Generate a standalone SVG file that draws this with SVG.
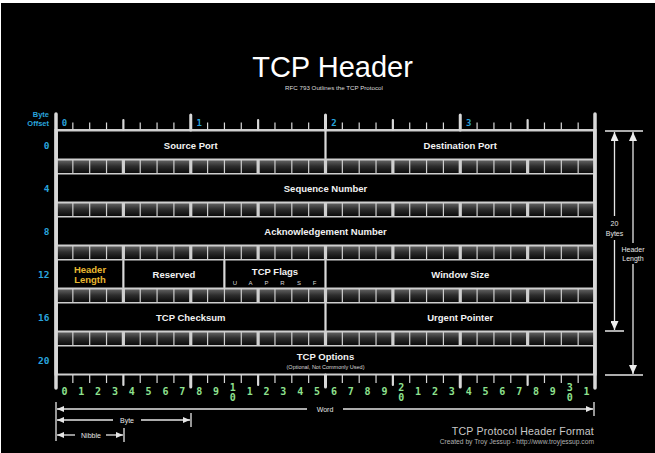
<svg xmlns="http://www.w3.org/2000/svg" width="655" height="453" viewBox="0 0 655 453">
<style>
.sans{font-family:"Liberation Sans",Arial,Helvetica,sans-serif}
.mono{font-family:"DejaVu Sans Mono","Liberation Mono",monospace;font-weight:bold}
.fl{font-family:"Liberation Sans",Arial,Helvetica,sans-serif;font-weight:bold;font-size:9.5px;fill:#f2f2f2;text-anchor:middle}
.blue{fill:#29a3dc}
.green{fill:#8fe28f;font-size:10px;text-anchor:middle}
.yel{fill:#e9b830}
.cell{fill:#000}
.dim{stroke:#e6e6e6;stroke-width:1.3;fill:none}
.tick{stroke:#d8d8d8;fill:none}
.small{font-family:"Liberation Sans",Arial,Helvetica,sans-serif;font-size:7px;fill:#e6e6e6;text-anchor:middle}
</style>
<defs>
<linearGradient id="cellg" x1="0" y1="0" x2="0" y2="1">
<stop offset="0" stop-color="#606060"/>
<stop offset="0.45" stop-color="#2e2e2e"/>
<stop offset="1" stop-color="#0a0a0a"/>
</linearGradient>
<g id="nib">
<rect x="1.6" width="14.64" height="12.5"/>
<rect x="17.44" width="15.65" height="12.5"/>
<rect x="34.29" width="15.64" height="12.5"/>
<rect x="51.13" width="14.65" height="12.5"/>
</g>
<g id="strip" fill="url(#cellg)">
<use href="#nib" x="56"/>
<use href="#nib" x="123.375"/>
<use href="#nib" x="190.75"/>
<use href="#nib" x="258.125"/>
<use href="#nib" x="325.5"/>
<use href="#nib" x="392.875"/>
<use href="#nib" x="460.25"/>
<use href="#nib" x="527.625"/>
</g>
<marker id="ah" markerUnits="userSpaceOnUse" markerWidth="7" markerHeight="6" refX="7" refY="3" orient="auto">
<path d="M0,0 L7,3 L0,6 z" fill="#e6e6e6"/>
</marker>
<marker id="av" markerUnits="userSpaceOnUse" markerWidth="9" markerHeight="8" refX="9" refY="4" orient="auto">
<path d="M0,0 L9,4 L0,8 z" fill="#eeeeee"/>
</marker>
</defs>

<rect width="655" height="453" fill="#ffffff"/>
<rect x="1" y="3" width="654" height="450" fill="#000"/>

<g id="title">
<text x="332.5" y="77" class="sans" font-size="29" fill="#ffffff" text-anchor="middle">TCP Header</text>
<text x="334" y="89.5" class="sans" font-size="6.2" fill="#dddddd" text-anchor="middle">RFC 793 Outlines the TCP Protocol</text>
</g>

<g id="frame">
<rect x="54.5" y="129" width="542" height="246.5" fill="#cfcfcf"/>
<use href="#strip" y="160.5"/>
<use href="#strip" y="203.5"/>
<use href="#strip" y="246.5"/>
<use href="#strip" y="289.5"/>
<use href="#strip" y="332.5"/>
</g>

<g id="field-source-port">
<rect class="cell" x="58" y="131.5" width="266.5" height="27"/>
<text class="fl" x="190.75" y="149">Source Port</text>
</g>
<g id="field-destination-port">
<rect class="cell" x="326.5" y="131.5" width="266.5" height="27"/>
<text class="fl" x="460.25" y="149">Destination Port</text>
</g>
<g id="field-sequence-number">
<rect class="cell" x="58" y="174.5" width="535" height="27"/>
<text class="fl" x="325.5" y="192">Sequence Number</text>
</g>
<g id="field-acknowledgement-number">
<rect class="cell" x="58" y="217.5" width="535" height="27"/>
<text class="fl" x="325.5" y="235">Acknowledgement Number</text>
</g>
<g id="field-header-length">
<rect class="cell" x="58" y="260.5" width="64.4" height="27"/>
<text class="fl yel" x="90" y="272.5">Header</text>
<text class="fl yel" x="90" y="283">Length</text>
</g>
<g id="field-reserved">
<rect class="cell" x="124.4" y="260.5" width="99" height="27"/>
<text class="fl" x="174" y="277.5">Reserved</text>
</g>
<g id="field-tcp-flags">
<rect class="cell" x="225.4" y="260.5" width="99.1" height="27"/>
<text class="fl" x="275" y="274.5">TCP Flags</text>
<text class="sans" font-size="6" fill="#d8d8d8" text-anchor="middle" y="284.5" x="235 250.5 266.5 282.5 299 314.5">UAPRSF</text>
</g>
<g id="field-window-size">
<rect class="cell" x="326.5" y="260.5" width="266.5" height="27"/>
<text class="fl" x="460.25" y="278">Window Size</text>
</g>
<g id="field-tcp-checksum">
<rect class="cell" x="58" y="303.5" width="266.5" height="27"/>
<text class="fl" x="190.75" y="321">TCP Checksum</text>
</g>
<g id="field-urgent-pointer">
<rect class="cell" x="326.5" y="303.5" width="266.5" height="27"/>
<text class="fl" x="460.25" y="321">Urgent Pointer</text>
</g>
<g id="field-tcp-options">
<rect class="cell" x="58" y="346.5" width="535" height="27"/>
<text class="fl" x="325.5" y="360">TCP Options</text>
<text class="sans" font-size="5.5" fill="#d8d8d8" text-anchor="middle" x="325.5" y="368.5">(Optional, Not Commonly Used)</text>
</g>

<g id="ruler">
<path class="tick" stroke-width="1.2" d="M72.84 122.5V130M89.69 122.5V130M106.53 122.5V130M140.22 122.5V130M157.06 122.5V130M173.91 122.5V130M207.59 122.5V130M224.44 122.5V130M241.28 122.5V130M274.97 122.5V130M291.81 122.5V130M308.66 122.5V130M342.34 122.5V130M359.19 122.5V130M376.03 122.5V130M409.72 122.5V130M426.56 122.5V130M443.41 122.5V130M477.09 122.5V130M493.94 122.5V130M510.78 122.5V130M544.47 122.5V130M561.31 122.5V130M578.16 122.5V130"/>
<path class="tick" stroke-width="1.2" d="M72.84 375V383M89.69 375V383M106.53 375V383M140.22 375V383M157.06 375V383M173.91 375V383M207.59 375V383M224.44 375V383M241.28 375V383M274.97 375V383M291.81 375V383M308.66 375V383M342.34 375V383M359.19 375V383M376.03 375V383M409.72 375V383M426.56 375V383M443.41 375V383M477.09 375V383M493.94 375V383M510.78 375V383M544.47 375V383M561.31 375V383M578.16 375V383"/>
<path class="tick" stroke-width="2.2" stroke-linecap="round" d="M123.38 120V130M258.13 120V130M392.88 120V130M527.63 120V130M123.38 375V385M258.13 375V385M392.88 375V385M527.63 375V385"/>
<path class="tick" stroke="#e4e4e4" stroke-width="3" stroke-linecap="round" d="M190.75 115V130M325.5 115V130M460.25 115V130M190.75 375V387M325.5 375V387M460.25 375V387"/>
<path class="tick" stroke="#e4e4e4" stroke-width="3.5" stroke-linecap="round" d="M56 114V388M595 114V388"/>
<path stroke="#d8d8d8" stroke-width="1.5" d="M325.5 131.5V158.5M325.5 303.5V330.5M123.4 260.5V287.5M224.4 260.5V287.5M325.5 260.5V287.5"/>
</g>

<g id="offset-labels">
<text class="sans blue" font-weight="bold" font-size="7.5" text-anchor="end" x="49" y="116.5">Byte</text>
<text class="sans blue" font-weight="bold" font-size="7.5" text-anchor="end" x="49" y="125.5">Offset</text>
<text class="mono blue" font-size="9.5" text-anchor="end" x="49.5" y="148.5">0</text>
<text class="mono blue" font-size="9.5" text-anchor="end" x="49.5" y="191.5">4</text>
<text class="mono blue" font-size="9.5" text-anchor="end" x="49.5" y="234.5">8</text>
<text class="mono blue" font-size="9.5" text-anchor="end" x="49.5" y="277.5">12</text>
<text class="mono blue" font-size="9.5" text-anchor="end" x="49.5" y="320.5">16</text>
<text class="mono blue" font-size="9.5" text-anchor="end" x="49.5" y="363.5">20</text>
<text class="mono blue" font-size="9" text-anchor="middle" y="126" x="64.42 199.17 333.92 468.67">0123</text>
</g>

<g id="bit-numbers">
<text class="mono green" y="395" x="64.42 81.26 98.11 114.95 131.80 148.64 165.48 182.33 199.17 216.01">0123456789</text>
<text class="mono green" y="395" x="249.70 266.55 283.39 300.23 317.08 333.92 350.76 367.61 384.45">123456789</text>
<text class="mono green" y="395" x="418.14 434.98 451.83 468.67 485.51 502.36 519.20 536.05 552.89">123456789</text>
<text class="mono green" y="395" x="586.58">1</text>
<text class="mono green" font-size="8.5" y="390.5" x="232.86">1<tspan x="232.86" dy="10">0</tspan></text>
<text class="mono green" font-size="8.5" y="390.5" x="401.30">2<tspan x="401.30" dy="10">0</tspan></text>
<text class="mono green" font-size="8.5" y="390.5" x="569.73">3<tspan x="569.73" dy="10">0</tspan></text>
</g>

<g id="connectors">
<path class="dim" d="M56 402V441M594 402V416M191 413V427M124 428V442"/>
<line class="dim" x1="307" y1="409" x2="57" y2="409" marker-end="url(#ah)"/>
<line class="dim" x1="343" y1="409" x2="593" y2="409" marker-end="url(#ah)"/>
<line class="dim" x1="113" y1="420" x2="57" y2="420" marker-end="url(#ah)"/>
<line class="dim" x1="141" y1="420" x2="190" y2="420" marker-end="url(#ah)"/>
<line class="dim" x1="75" y1="435" x2="57" y2="435" marker-end="url(#ah)"/>
<line class="dim" x1="106" y1="435" x2="123" y2="435" marker-end="url(#ah)"/>
<path class="dim" stroke-width="1.5" d="M605 131H643M605 331H624M605 375H643"/>
<line class="dim" stroke-width="1.5" x1="614.5" y1="216" x2="614.5" y2="132" marker-end="url(#av)"/>
<line class="dim" stroke-width="1.5" x1="614.5" y1="240" x2="614.5" y2="330" marker-end="url(#av)"/>
<line class="dim" stroke-width="1.5" x1="633" y1="243" x2="633" y2="132" marker-end="url(#av)"/>
<line class="dim" stroke-width="1.5" x1="633" y1="264" x2="633" y2="374" marker-end="url(#av)"/>
</g>

<g id="dimension-labels">
<text class="small" x="325" y="411.5">Word</text>
<text class="small" x="127" y="422.5">Byte</text>
<text class="small" x="91" y="437.5">Nibble</text>
<text class="small" x="614.5" y="225.5">20</text>
<text class="small" x="614.5" y="235.5">Bytes</text>
<text class="small yel" x="633" y="251.5">Header</text>
<text class="small yel" x="633" y="261">Length</text>
</g>

<g id="footer">
<text class="sans" font-size="10.6" fill="#c8c8c8" text-anchor="end" x="594" y="435" letter-spacing="0.2">TCP Protocol Header Format</text>
<text class="sans" font-size="6.7" fill="#b0b0b0" text-anchor="end" x="594" y="443.5">Created by Troy Jessup - http://www.troyjessup.com</text>
</g>
</svg>
